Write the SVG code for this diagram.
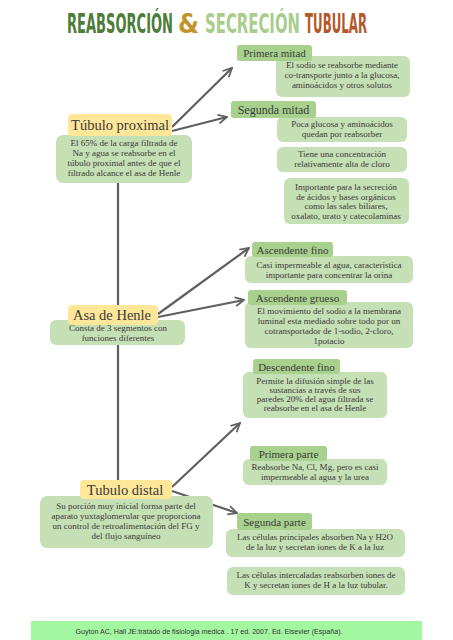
<svg xmlns="http://www.w3.org/2000/svg" width="453" height="640" viewBox="0 0 453 640">
<style>
.lab{fill:#a9d18e}
.desc{fill:#c5e0b4}
.yel{fill:#ffe699}
.t{font-family:"Liberation Serif",serif;fill:#3a3a3a;text-anchor:middle}
.b{font-size:9px}
.l{font-size:11px}
.h{font-size:14.5px}
.con{stroke:#5f5f5f;stroke-width:2.2;fill:none}
.ttl{font-family:"DejaVu Sans Condensed","DejaVu Sans",sans-serif;font-size:14px;font-weight:bold}
</style>
<defs>
<marker id="ah" viewBox="0 0 10 10" refX="9" refY="5" markerWidth="5" markerHeight="5" orient="auto" markerUnits="strokeWidth">
<path d="M1,1 L9,5 L1,9" fill="none" stroke="#5f5f5f" stroke-width="1.6"/>
</marker>
</defs>
<rect width="453" height="640" fill="#ffffff"/>
<g id="title" transform="translate(0,33) scale(1,1.9)">
<text class="ttl" x="67" y="0" textLength="106" lengthAdjust="spacingAndGlyphs" fill="#4e7d3a">REABSORCIÓN</text>
<text class="ttl" x="178" y="0" textLength="21" lengthAdjust="spacingAndGlyphs" fill="#c3932b">&amp;</text>
<text class="ttl" x="205" y="0" textLength="95" lengthAdjust="spacingAndGlyphs" fill="#a9cd8c">SECRECIÓN</text>
<text class="ttl" x="305" y="0" textLength="62" lengthAdjust="spacingAndGlyphs" fill="#b4582a">TUBULAR</text>
</g>
<g id="connectors">
<line class="con" x1="118" y1="183" x2="118" y2="306"/>
<line class="con" x1="118" y1="345" x2="118" y2="481"/>
<line class="con" x1="172" y1="127" x2="232" y2="68" marker-end="url(#ah)"/>
<line class="con" x1="172" y1="131" x2="227" y2="117" marker-end="url(#ah)"/>
<line class="con" x1="158" y1="314" x2="249" y2="248" marker-end="url(#ah)"/>
<line class="con" x1="158" y1="317" x2="244" y2="300" marker-end="url(#ah)"/>
<line class="con" x1="172" y1="487" x2="240" y2="423" marker-end="url(#ah)"/>
<line class="con" x1="172" y1="491" x2="237" y2="513" marker-end="url(#ah)"/>
</g>
<g id="primera-mitad">
<rect class="desc" x="276" y="56" width="134" height="41" rx="6"/>
<rect class="lab" x="237" y="45" width="75" height="16" rx="3"/>
<text class="t l" x="274.5" y="57">Primera mitad</text>
<text class="t b" x="342" y="68">El sodio se reabsorbe mediante</text>
<text class="t b" x="342" y="78">co-transporte junto a la glucosa,</text>
<text class="t b" x="342" y="88">aminoácidos y otros solutos</text>
</g>
<g id="segunda-mitad">
<rect class="desc" x="277" y="117" width="130" height="25" rx="6"/>
<rect class="lab" x="231" y="101" width="85" height="17" rx="3"/>
<text class="t" style="font-size:12px" x="273.5" y="114">Segunda mitad</text>
<text class="t b" x="342" y="127">Poca glucosa y aminoácidos</text>
<text class="t b" x="342" y="137">quedan por reabsorber</text>
</g>
<g id="cloro">
<rect class="desc" x="277" y="147" width="130" height="25" rx="6"/>
<text class="t b" x="342" y="157">Tiene una concentración</text>
<text class="t b" x="342" y="167">relativamente alta de cloro</text>
</g>
<g id="secrecion">
<rect class="desc" x="284" y="178" width="125" height="46" rx="6"/>
<text class="t b" x="346" y="190">Importante para la secreción</text>
<text class="t b" x="346" y="199.5">de ácidos y bases orgánicos</text>
<text class="t b" x="346" y="209">como las sales biliares,</text>
<text class="t b" x="346" y="218.5">oxalato, urato y catecolaminas</text>
</g>
<g id="tubulo-proximal">
<rect class="desc" x="56" y="135" width="136" height="48" rx="7"/>
<rect class="yel" x="68" y="114" width="104" height="22" rx="4"/>
<text class="t h" x="120" y="130">Túbulo proximal</text>
<text class="t b" x="124" y="146">El 65% de la carga filtrada de</text>
<text class="t b" x="124" y="156">Na y agua se reabsorbe en el</text>
<text class="t b" x="124" y="166">túbulo proximal antes de que el</text>
<text class="t b" x="124" y="176">filtrado alcance el asa de Henle</text>
</g>
<g id="asa-henle">
<rect class="desc" x="50" y="320" width="135" height="25" rx="6"/>
<rect class="yel" x="68" y="305" width="90" height="20" rx="4"/>
<text class="t h" x="112" y="320">Asa de Henle</text>
<text class="t b" x="118" y="331">Consta de 3 segmentos con</text>
<text class="t b" x="118" y="341">funciones diferentes</text>
</g>
<g id="ascendente-fino">
<rect class="desc" x="245" y="256" width="168" height="27" rx="6"/>
<rect class="lab" x="252" y="242" width="81" height="15" rx="3"/>
<text class="t l" x="292.5" y="254">Ascendente fino</text>
<text class="t b" x="329" y="268">Casi impermeable al agua, caracteristica</text>
<text class="t b" x="329" y="278">importante para concentrar la orina</text>
</g>
<g id="ascendente-grueso">
<rect class="desc" x="245" y="302" width="168" height="46" rx="6"/>
<rect class="lab" x="248" y="290" width="99" height="15" rx="3"/>
<text class="t l" x="297.5" y="302">Ascendente grueso</text>
<text class="t b" x="329" y="314">El movimiento del sodio a la membrana</text>
<text class="t b" x="329" y="324">luminal esta mediado sobre todo por un</text>
<text class="t b" x="329" y="334">cotransportador de 1-sodio, 2-cloro,</text>
<text class="t b" x="329" y="344">1potacio</text>
</g>
<g id="descendente-fino">
<rect class="desc" x="243" y="372" width="144" height="46" rx="6"/>
<rect class="lab" x="253" y="359" width="87" height="15" rx="3"/>
<text class="t l" x="296.5" y="371">Descendente fino</text>
<text class="t b" x="315" y="384">Permite la difusión simple de las</text>
<text class="t b" x="315" y="393">sustancias a través de sus</text>
<text class="t b" x="315" y="402">paredes 20% del agua filtrada se</text>
<text class="t b" x="315" y="411">reabsorbe en el asa de Henle</text>
</g>
<g id="primera-parte">
<rect class="desc" x="243" y="459" width="144" height="26" rx="6"/>
<rect class="lab" x="250" y="446" width="77" height="15" rx="3"/>
<text class="t l" x="288.5" y="458">Primera parte</text>
<text class="t b" x="315" y="470">Reabsorbe Na, Cl, Mg, pero es casi</text>
<text class="t b" x="315" y="480">impermeable al agua y la urea</text>
</g>
<g id="segunda-parte">
<rect class="desc" x="226" y="529" width="179" height="28" rx="6"/>
<rect class="lab" x="237" y="513" width="75" height="17" rx="3"/>
<text class="t l" x="274.5" y="526">Segunda parte</text>
<text class="t b" x="315" y="540">Las células principales absorben Na y H2O</text>
<text class="t b" x="315" y="550">de la luz y secretan iones de K a la luz</text>
</g>
<g id="intercaladas">
<rect class="desc" x="227" y="567" width="178" height="28" rx="6"/>
<text class="t b" x="316" y="578">Las células intercaladas reabsorben iones de</text>
<text class="t b" x="316" y="588">K y secretan iones de H a la luz tubular.</text>
</g>
<g id="tubulo-distal">
<rect class="desc" x="40" y="496" width="173" height="52" rx="7"/>
<rect class="yel" x="80" y="480" width="92" height="19" rx="4"/>
<text class="t h" x="125" y="495">Tubulo distal</text>
<text class="t b" x="126" y="509">Su porción muy inicial forma parte del</text>
<text class="t b" x="126" y="519">aparato yuxtaglomerular que proporciona</text>
<text class="t b" x="126" y="529">un control de retroalimentación del FG y</text>
<text class="t b" x="126" y="539">del flujo sanguíneo</text>
</g>
<g id="footer">
<rect x="31" y="621" width="391" height="19" fill="#a3f7a0"/>
<text x="209" y="634" style="font-family:'Liberation Sans',sans-serif;font-size:7.1px;fill:#333;text-anchor:middle">Guyton AC, Hall JE:tratado de fisiologia medica . 17 ed. 2007.  Ed. Elsevier (España).</text>
</g>
</svg>
